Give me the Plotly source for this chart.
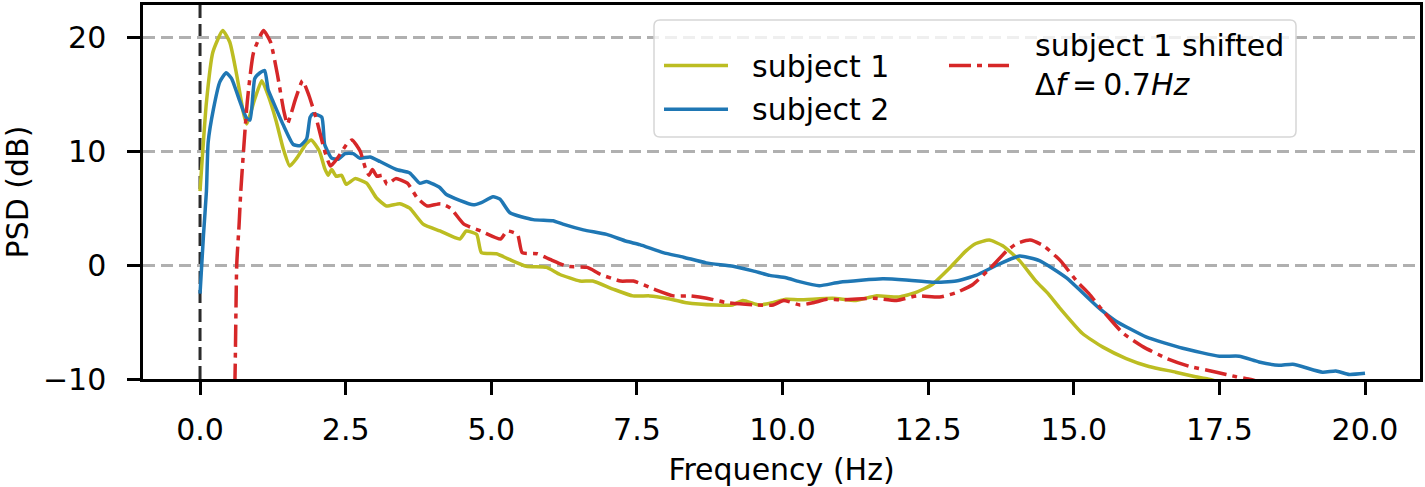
import plotly.graph_objects as go

# ---------------- data ----------------
s1_freq = [0.0, 0.11, 0.22, 0.39, 0.51, 0.63, 0.74, 0.8, 0.94, 1.06, 1.17, 1.31, 1.43, 1.54,
           1.66, 1.83, 1.91, 2.05, 2.14, 2.2, 2.26, 2.34, 2.43, 2.51, 2.66, 2.86, 3.03, 3.2,
           3.43, 3.6, 3.83, 4.12, 4.46, 4.57, 4.75, 4.83, 5.09, 5.31, 5.6, 5.95, 6.17, 6.52,
           6.74, 7.09, 7.43, 7.72, 8.0, 8.35, 8.86, 9.14, 9.32, 9.6, 9.83, 10.06, 10.29, 10.86,
           11.26, 11.6, 12.0, 12.29, 12.57, 12.86, 13.15, 13.32, 13.55, 13.78, 14.07, 14.35,
           14.56, 14.75, 15.15, 15.5, 15.9, 16.29, 16.75, 17.09, 17.3, 17.6]
s1_psd = [6.5, 14.3, 18.7, 20.6, 19.6, 16.7, 13.5, 12.4, 14.6, 16.2, 14.9, 12.6, 10.2, 8.7,
          9.4, 10.7, 11.0, 10.0, 8.5, 7.9, 8.4, 7.8, 7.9, 7.1, 7.6, 7.2, 5.9, 5.2,
          5.4, 5.0, 3.6, 3.0, 2.3, 3.0, 2.7, 1.1, 1.0, 0.5, -0.1, -0.2, -0.8, -1.4,
          -1.4, -2.1, -2.7, -2.7, -2.9, -3.3, -3.5, -3.5, -3.1, -3.5, -3.3, -3.0, -3.05, -2.9,
          -3.1, -2.7, -2.8, -2.4, -1.7, -0.3, 1.25, 1.9, 2.2, 1.7, 0.4, -1.4,
          -2.5, -3.7, -6.0, -7.2, -8.2, -8.9, -9.4, -9.8, -10.0, -10.4]

s2_freq = [0.0, 0.06, 0.11, 0.14, 0.23, 0.34, 0.45, 0.54, 0.69, 0.8, 0.86, 0.94, 1.03, 1.11,
           1.17, 1.26, 1.43, 1.6, 1.72, 1.83, 1.89, 1.94, 2.09, 2.14, 2.26, 2.37, 2.49, 2.63,
           2.74, 2.92, 3.09, 3.37, 3.6, 3.77, 3.89, 4.12, 4.23, 4.69, 4.83, 5.03, 5.15, 5.32,
           5.72, 6.06, 6.23, 6.58, 6.98, 7.32, 7.55, 7.95, 8.3, 8.69, 9.15, 9.49, 9.78, 10.06,
           10.29, 10.63, 10.98, 11.72, 12.12, 12.57, 12.98, 13.32, 13.72, 14.07, 14.41, 14.87,
           15.44, 15.72, 16.24, 16.87, 17.5, 17.84, 18.18, 18.52, 18.76, 19.27, 19.5, 19.73, 20.0]
s2_psd = [-2.5, 2.7, 6.5, 10.8, 13.7, 16.1, 16.9, 16.4, 14.3, 12.9, 12.75, 16.4, 16.9, 17.1,
          15.4, 14.3, 12.3, 10.6, 10.5, 11.1, 13.0, 13.3, 13.0, 10.6, 9.4, 9.3, 9.8, 9.8,
          9.4, 9.5, 9.1, 8.4, 8.1, 7.2, 7.35, 6.8, 6.2, 5.3, 5.5, 6.0, 5.8, 4.6,
          4.0, 3.9, 3.6, 3.1, 2.7, 2.1, 1.8, 1.1, 0.7, 0.2, -0.1, -0.5, -0.9, -1.1,
          -1.45, -1.8, -1.5, -1.2, -1.3, -1.5, -1.4, -0.9, 0.1, 0.8, 0.4, -1.1,
          -3.8, -4.9, -6.3, -7.3, -8.0, -8.0, -8.5, -8.8, -8.7, -9.4, -9.3, -9.6, -9.5]

shift_hz = 0.7
# low-frequency roll-off of the shifted spectrum (below the shifted origin)
shift_lead_freq = [0.57, 0.6, 0.63, 0.67]
shift_lead_psd = [-14.0, -10.0, 0.0, 3.5]
s1s_freq = shift_lead_freq + [f + shift_hz for f in s1_freq]
s1s_psd = shift_lead_psd + list(s1_psd)

x_ticks = [0.0, 2.5, 5.0, 7.5, 10.0, 12.5, 15.0, 17.5, 20.0]
y_ticks = [-10, 0, 10, 20]

names = ["subject 1", "subject 2",
         "subject 1 shifted<br>Δ<i>f</i>\u2009=\u20090.7<i>Hz</i>"]

# ---------------- figure ----------------
FONT = "DejaVu Sans"
FS = 30
OLIVE = "#bcbd22"
BLUE = "#1f77b4"
RED = "#d62728"
RED_DASH = "22px,6px,5px,6px"
LW = 3.5

W, H = 1425, 487
L, R, T, B = 143, 1420, 2, 379   # plot area in pixels


def px(x):
    return (x - L) / (R - L)


def py(y):
    return (B - y) / (B - T)


fig = go.Figure()
fig.add_trace(go.Scatter(x=s1_freq, y=s1_psd, mode="lines", name=names[0],
                         line=dict(color=OLIVE, width=LW, shape="spline", smoothing=0.5)))
fig.add_trace(go.Scatter(x=s2_freq, y=s2_psd, mode="lines", name=names[1],
                         line=dict(color=BLUE, width=LW, shape="spline", smoothing=0.5)))
fig.add_trace(go.Scatter(x=s1s_freq, y=s1s_psd, mode="lines", name=names[2],
                         line=dict(color=RED, width=LW, dash=RED_DASH, shape="spline",
                                   smoothing=0.5)))

# vertical dashed line at 0 Hz
fig.add_shape(type="line", xref="x", yref="paper", x0=0, x1=0, y0=0, y1=1,
              line=dict(color="#2b2b2b", width=3, dash="13px,6px"), layer="below")

# ---- legend box (drawn like matplotlib's legend frame) ----
bx0, bx1, by0, by1, rad = 654, 1296, 17, 135, 6
path = (f"M {px(bx0 + rad)},{py(by0)} L {px(bx1 - rad)},{py(by0)} "
        f"Q {px(bx1)},{py(by0)} {px(bx1)},{py(by0 + rad)} "
        f"L {px(bx1)},{py(by1 - rad)} Q {px(bx1)},{py(by1)} {px(bx1 - rad)},{py(by1)} "
        f"L {px(bx0 + rad)},{py(by1)} Q {px(bx0)},{py(by1)} {px(bx0)},{py(by1 - rad)} "
        f"L {px(bx0)},{py(by0 + rad)} Q {px(bx0)},{py(by0)} {px(bx0 + rad)},{py(by0)} Z")
fig.add_shape(type="path", xref="paper", yref="paper", path=path,
              fillcolor="rgba(255,255,255,0.8)", line=dict(color="#d6d6d6", width=1.5),
              layer="above")
legend_items = [
    (664, 728, 63, OLIVE, "solid"),
    (664, 728, 107, BLUE, "solid"),
    (949, 1009, 63, RED, RED_DASH),
]
for x0, x1, yy, col, dsh in legend_items:
    fig.add_shape(type="line", xref="paper", yref="paper", x0=px(x0), x1=px(x1),
                  y0=py(yy), y1=py(yy), line=dict(color=col, width=LW, dash=dsh),
                  layer="above")
legend_texts = [(751, 64, names[0]), (751, 107, names[1]), (1034, 62, names[2])]
for xx, yy, txt in legend_texts:
    fig.add_annotation(xref="paper", yref="paper", x=px(xx), y=py(yy), text=txt,
                       showarrow=False, xanchor="left", yanchor="middle", align="left",
                       borderpad=0, font=dict(family=FONT, size=FS, color="black"))

fig.update_layout(
    width=W, height=H,
    margin=dict(l=L, r=W - R, t=T, b=H - B),
    paper_bgcolor="white", plot_bgcolor="white",
    font=dict(family=FONT, size=FS, color="black"),
    showlegend=False,
    xaxis=dict(range=[-0.979, 20.944], tickmode="array", tickvals=x_ticks,
               ticktext=[f"{v:.1f}" for v in x_ticks],
               showgrid=False, zeroline=False, showline=True, mirror=True,
               linecolor="black", linewidth=2.5, ticks="outside", ticklen=13,
               tickwidth=2.5, tickcolor="black", ticklabelstandoff=9,
               title=dict(text="Frequency (Hz)", font=dict(family=FONT, size=FS), standoff=16)),
    yaxis=dict(range=[-10, 22.85], tickmode="array", tickvals=y_ticks,
               ticktext=["\u221210", "0", "10", "20"],
               showgrid=True, gridcolor="#b0b0b0", gridwidth=2.5, griddash="12px,6px",
               zeroline=False, showline=True, mirror=True,
               linecolor="black", linewidth=2.5, ticks="outside", ticklen=13,
               tickwidth=2.5, tickcolor="black", ticklabelstandoff=15,
               title=dict(text="PSD (dB)", font=dict(family=FONT, size=FS), standoff=14)),
)

fig.write_html("out.html")
